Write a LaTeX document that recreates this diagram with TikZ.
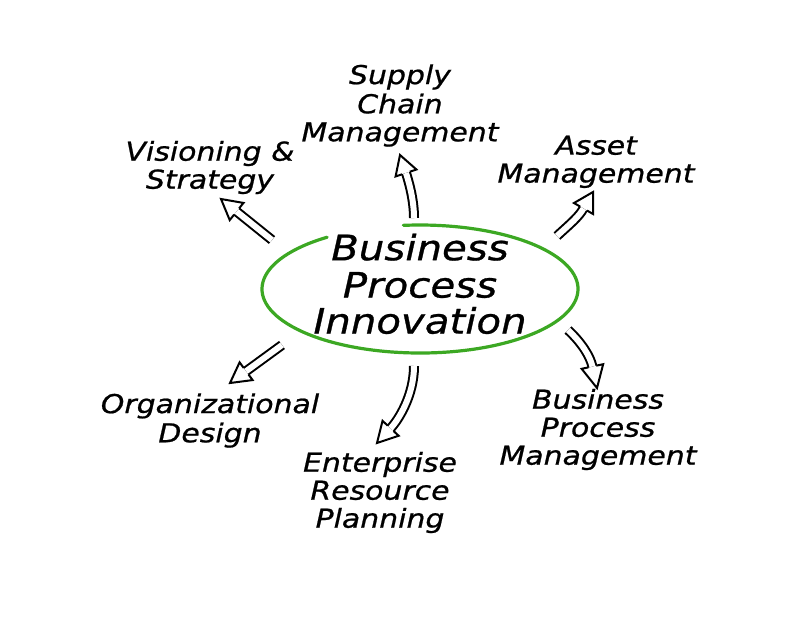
\documentclass[tikz,border=0pt]{standalone}
\usepackage{fontspec}
\setmainfont{DejaVu Sans}[FakeStretch=1.15,FakeBold=0.8]
\usetikzlibrary{calc}
\definecolor{ringgreen}{RGB}{60,168,35}
\tikzset{
  lbl/.style={align=center, inner sep=0pt, font=\fontsize{26}{28}\selectfont\itshape},
  core/.style={align=center, inner sep=0pt, font=\fontsize{35}{36}\selectfont\itshape},
  shaft/.style={draw=black, line width=2pt, double=white, double distance=6pt},
  headline/.style={draw=black, line width=2pt, line join=miter},
  ring/.style={draw=ringgreen, line width=3.2pt, line cap=round},
}
\newcommand\hollowhead[2]{%
  \draw[headline] ($(#1)!4pt!90:(#2)$) -- ($(#1)!11pt!90:(#2)$) -- (#2)
    -- ($(#1)!11pt!-90:(#2)$) -- ($(#1)!4pt!-90:(#2)$);}
\begin{document}
\begin{tikzpicture}[x=1pt,y=-1pt]
\useasboundingbox (0,0) rectangle (800,630);

% central ring and title
\draw[ring] (420,289) ++(234:158 and 64)
  arc[start angle=234, end angle=-96, x radius=158, y radius=64];
\draw[draw=ringgreen, line width=1.5pt, line cap=round] (420,289) ++(-60:158 and 64)
  arc[start angle=-60, end angle=-96, x radius=159.5, y radius=65.5];
\node[core] (bpi) at (420,289) {\strut Business\\Process\\Innovation\strut};

% labels
\node[lbl] (scm) at (400,107) {\strut Supply\\Chain\\Management\strut};
\node[lbl] (vis) at (210,169) {\strut Visioning \&\\Strategy\strut};
\node[lbl] (am)  at (596,163) {\strut Asset\\Management\strut};
\node[lbl] (org) at (210,422) {\strut Organizational\\Design\strut};
\node[lbl] (erp) at (380,494) {\strut Enterprise\\Resource\\Planning\strut};
\node[lbl] (bpm) at (598,431) {\strut Business\\Process\\Management\strut};

% arrow end points
\coordinate (t1) at (272,240); \coordinate (b1) at (236.6,211.5); \coordinate (p1) at (221,199);
\coordinate (t2) at (414,218); \coordinate (b2) at (406,173);     \coordinate (p2) at (400,155);
\coordinate (t3) at (557,236); \coordinate (b3) at (583.5,208.5); \coordinate (p3) at (593,192);
\coordinate (t4) at (282,345); \coordinate (b4) at (246.1,371.2); \coordinate (p4) at (230,383);
\coordinate (t5) at (414,366); \coordinate (b5) at (390.6,428.3); \coordinate (p5) at (377,443);
\coordinate (t6) at (568,330); \coordinate (b6) at (592.4,366.5); \coordinate (p6) at (597,388);

% shafts
\draw[shaft] (t1) -- (b1);
\draw[shaft] (t2) .. controls (414,200) and (409,182.5) .. (b2);
\draw[shaft] (t3) .. controls (570,224) and (578.5,217.2) .. (b3);
\draw[shaft] (t4) -- (b4);
\draw[shaft] (t5) .. controls (414,395) and (398.8,419.5) .. (b5);
\draw[shaft] (t6) .. controls (582,343) and (590.3,356.7) .. (b6);

% heads
\hollowhead{b1}{p1}
\hollowhead{b2}{p2}
\hollowhead{b3}{p3}
\hollowhead{b4}{p4}
\hollowhead{b5}{p5}
\hollowhead{b6}{p6}
\end{tikzpicture}
\end{document}
